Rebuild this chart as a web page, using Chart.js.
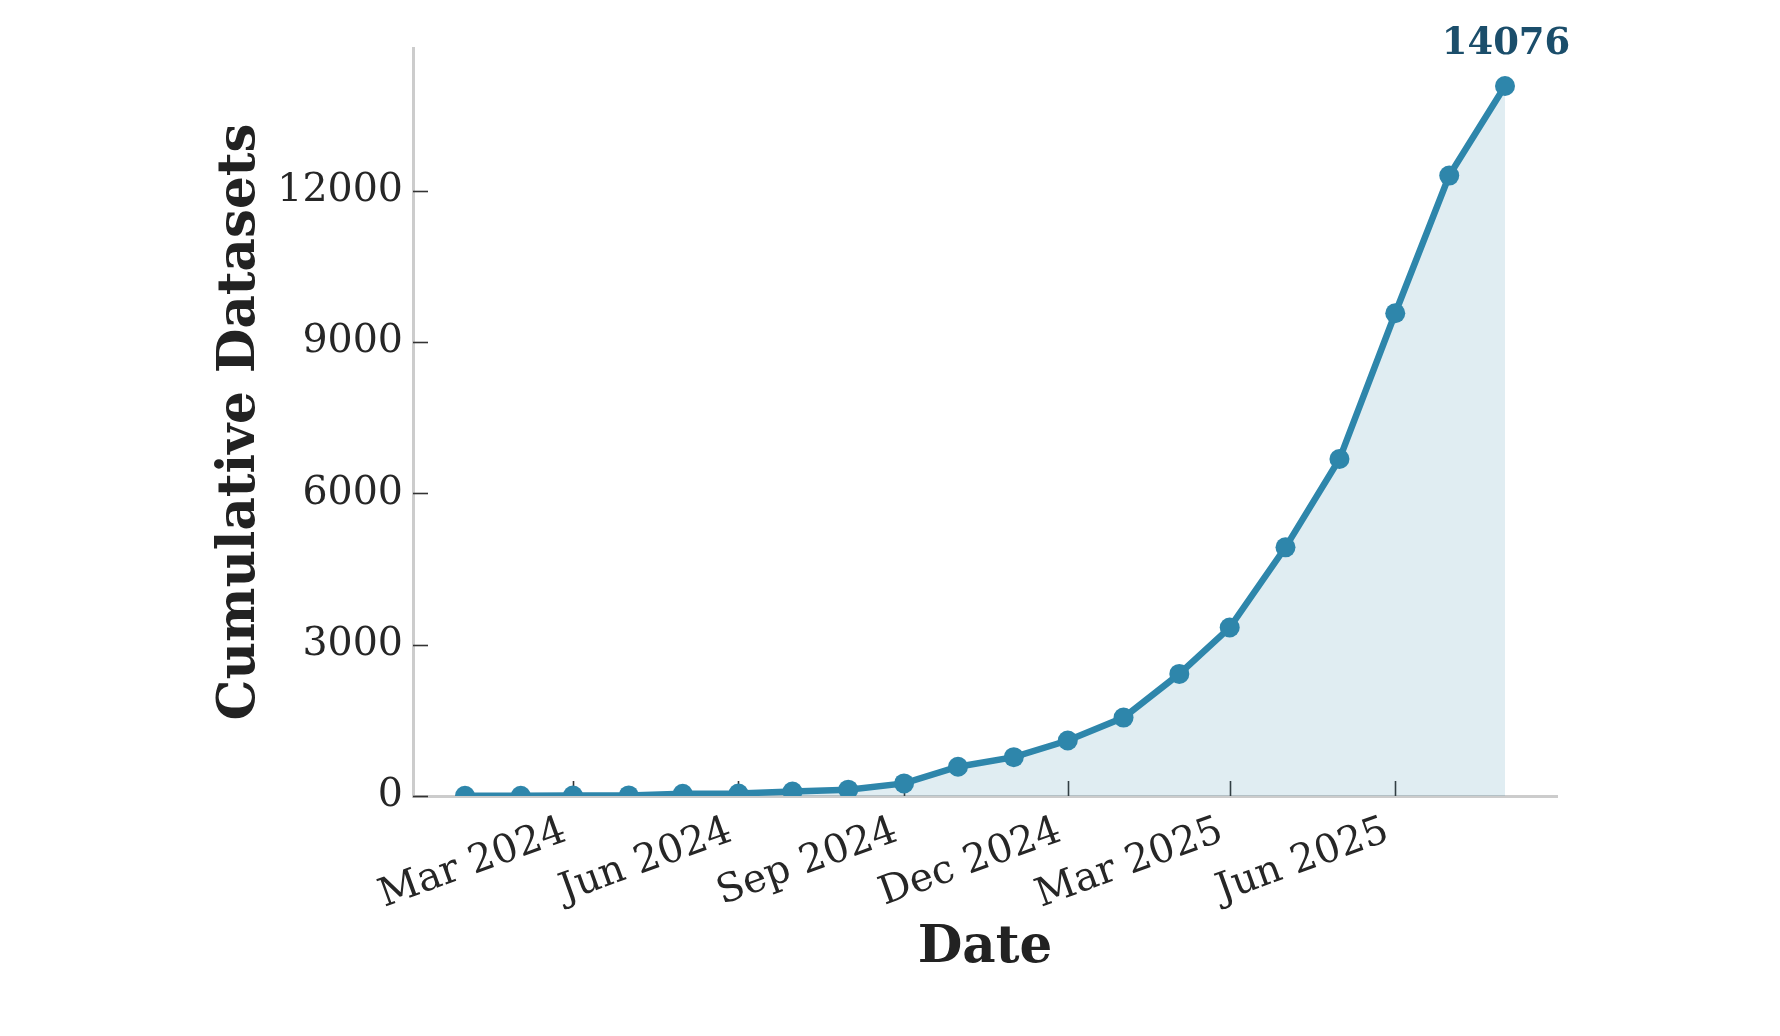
<!DOCTYPE html>
<html>
<head>
<meta charset="utf-8">
<script src="https://cdn.jsdelivr.net/npm/chart.js@4.4.1/dist/chart.umd.min.js"></script>
<style>
  html, body { margin: 0; padding: 0; background: #ffffff; }
  #wrap { width: 1780px; height: 1036px; }
</style>
</head>
<body>
<div id="wrap"><canvas id="c" width="1780" height="1036"></canvas></div>
<script>
// ---- data ----
const months = ['2024-01','2024-02','2024-03','2024-04','2024-05','2024-06','2024-07','2024-08',
                '2024-09','2024-10','2024-11','2024-12','2025-01','2025-02','2025-03','2025-04',
                '2025-05','2025-06','2025-07','2025-08'];
const cumulativeDatasets = [3, 5, 8, 12, 45, 50, 90, 125, 250, 580, 770, 1100, 1555, 2420,
                            3340, 4930, 6680, 9570, 12300, 14076];
const xTickMonths = ['2024-03','2024-06','2024-09','2024-12','2025-03','2025-06'];
const xTickLabels = ['Mar 2024','Jun 2024','Sep 2024','Dec 2024','Mar 2025','Jun 2025'];
const yTickValues = [0, 3000, 6000, 9000, 12000];
const xTitle = 'Date';
const yTitle = 'Cumulative Datasets';

// ---- helpers ----
const toDay = s => {
  const [y, m] = s.split('-').map(Number);
  return (Date.UTC(y, m - 1, 1) - Date.UTC(2024, 0, 1)) / 86400000;
};
const xs = months.map(toDay);
const xSpan = xs[xs.length - 1] - xs[0];
const xMin = xs[0] - 0.05 * xSpan;
const xMax = xs[xs.length - 1] + 0.05 * xSpan;
const yMax = cumulativeDatasets[cumulativeDatasets.length - 1] * 1.0535;
const xTickDays = xTickMonths.map(toDay);

const LINE = '#2e86ab';
const FONT = "'DejaVu Serif', serif";

// inward tick marks drawn through the scales
const innerTicks = {
  id: 'innerTicks',
  beforeDatasetsDraw(chart) {
    const {ctx, chartArea, scales} = chart;
    ctx.save();
    ctx.strokeStyle = '#333333';
    ctx.lineWidth = 1.6;
    const L = 15;
    xTickDays.forEach(v => {
      const px = Math.round(scales.x.getPixelForValue(v)) + 0.5;
      ctx.beginPath();
      ctx.moveTo(px, chartArea.bottom);
      ctx.lineTo(px, chartArea.bottom - L);
      ctx.stroke();
    });
    yTickValues.forEach(v => {
      const py = Math.round(scales.y.getPixelForValue(v)) + 0.5;
      ctx.beginPath();
      ctx.moveTo(chartArea.left, py);
      ctx.lineTo(chartArea.left + L, py);
      ctx.stroke();
    });
    ctx.restore();
  }
};

// annotation of the last value
const lastLabel = {
  id: 'lastLabel',
  afterDatasetsDraw(chart) {
    const meta = chart.getDatasetMeta(0);
    const pt = meta.data[meta.data.length - 1];
    const {ctx} = chart;
    ctx.save();
    ctx.font = "bold 37px " + FONT;
    ctx.fillStyle = '#1b4e6b';
    ctx.textAlign = 'center';
    ctx.textBaseline = 'alphabetic';
    ctx.fillText(String(cumulativeDatasets[cumulativeDatasets.length - 1]), pt.x + 1, pt.y - 32);
    ctx.restore();
  }
};

new Chart(document.getElementById('c'), {
  type: 'line',
  data: {
    datasets: [{
      data: xs.map((x, i) => ({x: x, y: cumulativeDatasets[i]})),
      borderColor: LINE,
      backgroundColor: 'rgba(46,134,171,0.15)',
      borderWidth: 6.5,
      pointRadius: 10,
      pointBackgroundColor: LINE,
      pointBorderWidth: 0,
      pointHoverRadius: 10,
      tension: 0,
      fill: 'origin',
      clip: 0
    }]
  },
  options: {
    responsive: false,
    animation: false,
    devicePixelRatio: 1,
    layout: { padding: { left: 0, top: 48, right: 223, bottom: 0 } },
    plugins: { legend: { display: false }, tooltip: { enabled: false } },
    scales: {
      x: {
        type: 'linear',
        min: xMin,
        max: xMax,
        afterBuildTicks: s => { s.ticks = xTickDays.map(v => ({value: v})); },
        afterFit: s => { s.height = 240; },
        grid: { display: false, drawTicks: false },
        border: { display: true, color: '#cccccc', width: 3 },
        ticks: {
          autoSkip: false,
          minRotation: 20,
          maxRotation: 20,
          padding: 12,
          labelOffset: -8,
          color: '#262626',
          font: { family: FONT, size: 39.5 },
          callback: (v, i) => xTickLabels[i]
        },
        title: {
          display: true,
          text: xTitle,
          color: '#222222',
          font: { family: FONT, size: 51.5, weight: 'bold' },
          padding: { top: 0, bottom: 56 }
        }
      },
      y: {
        type: 'linear',
        min: 0,
        max: yMax,
        afterBuildTicks: s => { s.ticks = yTickValues.map(v => ({value: v})); },
        afterFit: s => { s.width = 413; },
        grid: { display: false, drawTicks: false },
        border: { display: true, color: '#cccccc', width: 3 },
        ticks: {
          padding: 10,
          color: '#262626',
          font: { family: FONT, size: 39.5 },
          callback: v => String(v)
        },
        title: {
          display: true,
          text: yTitle,
          color: '#222222',
          font: { family: FONT, size: 51.5, weight: 'bold' },
          padding: { top: 210, bottom: 0 }
        }
      }
    }
  },
  plugins: [innerTicks, lastLabel]
});
</script>
</body>
</html>
